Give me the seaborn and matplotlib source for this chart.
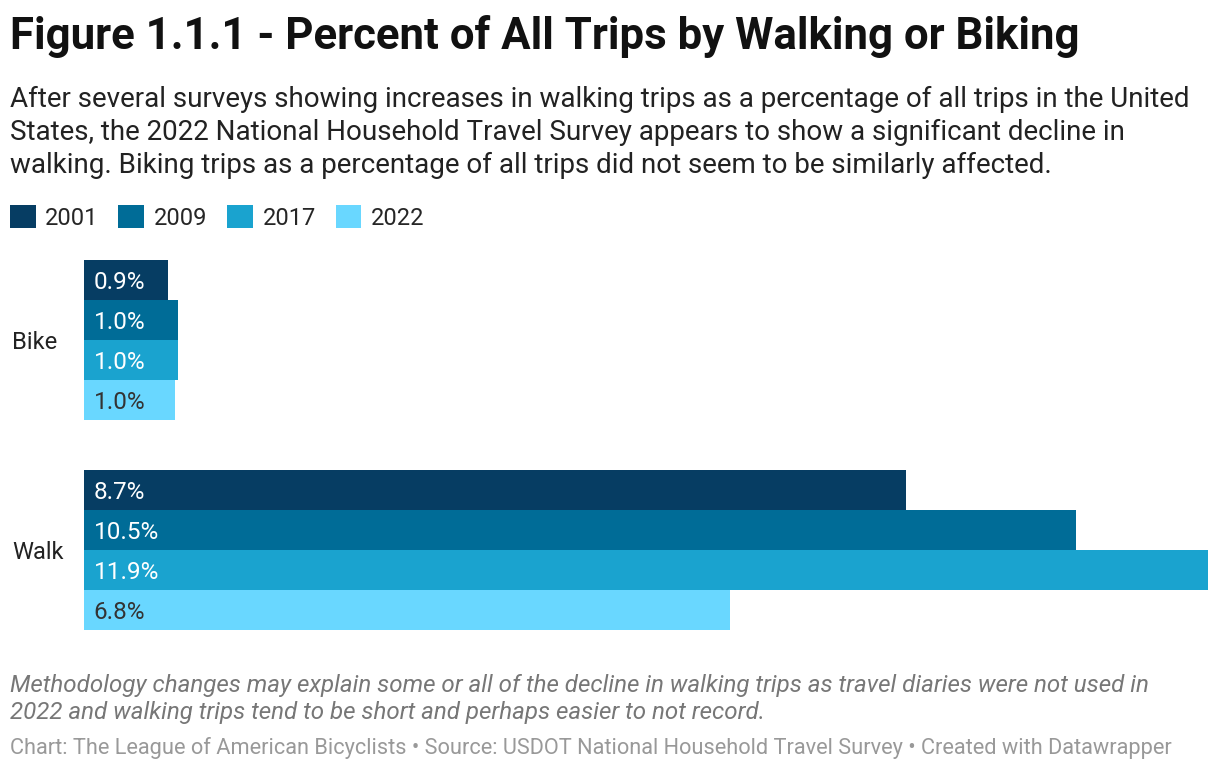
import matplotlib
matplotlib.use("Agg")
import matplotlib.pyplot as plt
from matplotlib.patches import Patch
import seaborn as sns
import pandas as pd

# data
modes = ["Bike", "Walk"]
years = ["2001", "2009", "2017", "2022"]
bike = [0.89, 1.0, 1.0, 0.96]
walk = [8.7, 10.5, 11.9, 6.84]
colors = ["#063d63", "#006c97", "#1aa3cf", "#69d7ff"]

df = pd.DataFrame({
    "mode": ["Bike"] * 4 + ["Walk"] * 4,
    "year": years * 2,
    "pct": bike + walk,
})

sns.set_theme(style="white")
plt.rcParams["font.family"] = ["Roboto", "DejaVu Sans"]

fig = plt.figure(figsize=(12.2, 7.74), dpi=100)
ax = fig.add_axes([84 / 1220, 1 - 630 / 774, 1124 / 1220, 370 / 774])

W = 160 / 210
sns.barplot(data=df, x="pct", y="mode", hue="year", orient="h",
            palette=colors, width=W, gap=0, saturation=1, ax=ax,
            legend=False, order=modes, hue_order=years, linewidth=0)

ax.set_xlim(0, 11.9)
ax.set_ylim(1 + W / 2, -W / 2)
ax.set_xlabel("")
ax.set_ylabel("")
ax.set_xticks([])
ax.set_yticks([])
for s in ax.spines.values():
    s.set_visible(False)

# category labels on the left
blend = ax.get_yaxis_transform().__class__(fig.transFigure, ax.transData)
for i, m in enumerate(modes):
    ax.text(12 / 1220, i, m, transform=blend,
            va="center_baseline", ha="left", fontsize=17, color="#222222")

# value labels inside bars
for j, cont in enumerate(ax.containers):
    tc = "#333333" if j == 3 else "white"
    for bar in cont:
        v = bar.get_width()
        ax.text(0.1, bar.get_y() + bar.get_height() / 2, f"{v:.1f}%",
                va="center_baseline", ha="left", color=tc, fontsize=17.5)

fig.text(0.008, 0.953, "Figure 1.1.1 - Percent of All Trips by Walking or Biking",
         fontsize=31.5, fontweight="bold", color="#111111", va="center")
fig.text(0.008, 0.829,
         "After several surveys showing increases in walking trips as a percentage of all trips in the United\n"
         "States, the 2022 National Household Travel Survey appears to show a significant decline in\n"
         "walking. Biking trips as a percentage of all trips did not seem to be similarly affected.",
         fontsize=20, color="#222222", va="center", linespacing=1.29)

handles = [Patch(facecolor=c, edgecolor="none") for c in colors]
fig.legend(handles, years, loc="center left", bbox_to_anchor=(0.008, 0.719),
           ncol=4, frameon=False, fontsize=17, handlelength=1.1, handleheight=1.1,
           handletextpad=0.4, columnspacing=0.84, borderaxespad=0, borderpad=0)

fig.text(0.008, 0.097,
         "Methodology changes may explain some or all of the decline in walking trips as travel diaries were not used in\n"
         "2022 and walking trips tend to be short and perhaps easier to not record.",
         fontsize=17.4, style="italic", color="#777777", va="center", linespacing=1.2)
fig.text(0.008, 0.033,
         "Chart: The League of American Bicyclists \u2022 Source: USDOT National Household Travel Survey \u2022 Created with Datawrapper",
         fontsize=15.7, color="#999999", va="center")

fig.savefig("out.png", dpi=100, facecolor="white")
